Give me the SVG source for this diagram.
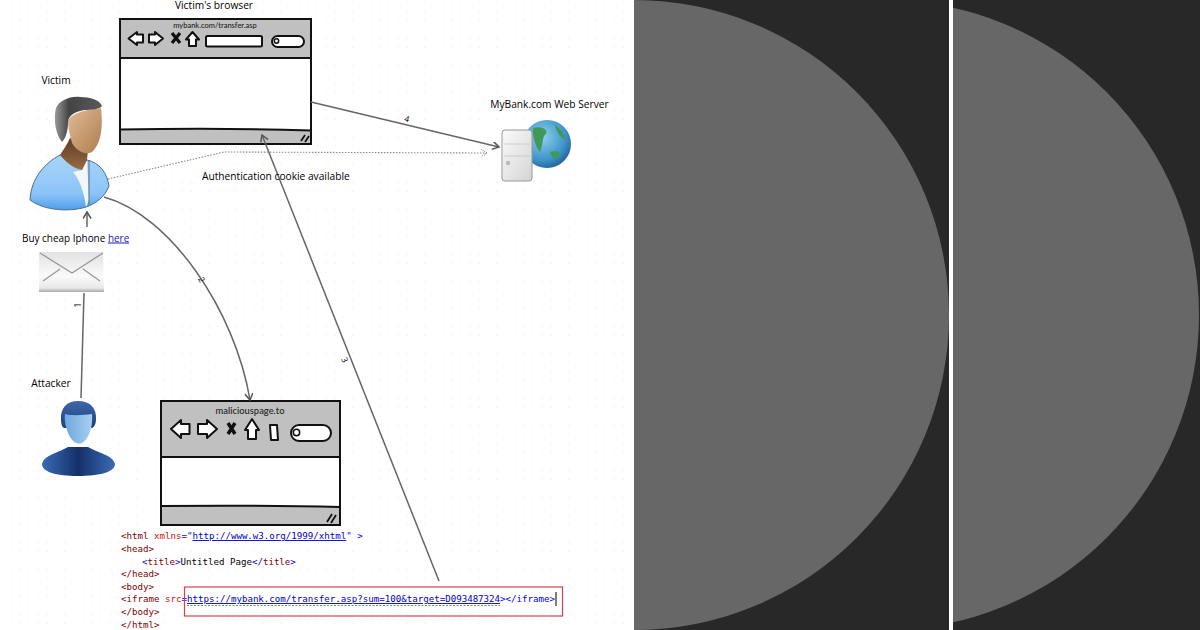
<svg xmlns="http://www.w3.org/2000/svg" width="1200" height="630" viewBox="0 0 1200 630">
<style>
.t{font-family:"Open Sans","Noto Sans","Liberation Sans",sans-serif;font-size:10.2px;fill:#000}
.n{font-family:"Open Sans","Liberation Sans",sans-serif;font-size:8.5px;fill:#000}
.s{font-family:Lato,"Open Sans",sans-serif;fill:#222;font-weight:500}
.c{font-family:"DejaVu Sans Mono","Liberation Mono",monospace;font-size:9.13px;fill:#000;white-space:pre}
.m{fill:#800000}.r{fill:#d01010}.b{fill:#0000ff}.u{fill:#0000d0;text-decoration:underline}
.conn{fill:none;stroke:#666;stroke-width:1.5}
.ic{fill:#fff;stroke:#111;stroke-width:2;stroke-linejoin:round}
.line{fill:none;stroke:#111;stroke-width:2}
</style>
<defs>
<pattern id="dots" width="9" height="9" patternUnits="userSpaceOnUse"><circle cx="2" cy="2" r=".6" fill="#e4e4e4"/></pattern>
<marker id="arr" markerWidth="10" markerHeight="10" refX="7.500" refY="4" orient="auto" markerUnits="userSpaceOnUse"><path d="M1,0 L7.500,4 L1,8" fill="none" stroke="#555" stroke-width="1.500"/></marker>
<marker id="dar" markerWidth="10" markerHeight="10" refX="7" refY="4" orient="auto" markerUnits="userSpaceOnUse"><path d="M1,0 L7,4 L1,8" fill="none" stroke="#888" stroke-width="1" stroke-dasharray="1 1"/></marker>
<linearGradient id="shirt" x1="0" y1="0" x2="0" y2="1"><stop offset="0" stop-color="#a9d4fb"/><stop offset=".7" stop-color="#8cc4f8"/><stop offset="1" stop-color="#4f9fe8"/></linearGradient>
<linearGradient id="skin" x1="0" y1="0" x2="1" y2="1"><stop offset="0" stop-color="#e0bc96"/><stop offset="1" stop-color="#b07c50"/></linearGradient>
<linearGradient id="neck" x1="0" y1="0" x2="0" y2="1"><stop offset="0" stop-color="#5e3c22"/><stop offset="1" stop-color="#9a6c44"/></linearGradient>
<linearGradient id="hair" x1="0" y1="0" x2="1" y2="0"><stop offset="0" stop-color="#9a9a9a"/><stop offset=".3" stop-color="#444"/><stop offset="1" stop-color="#5a5a5a"/></linearGradient>
<linearGradient id="atk" x1="0" y1="0" x2="0" y2="1"><stop offset="0" stop-color="#3f68a8"/><stop offset="1" stop-color="#1c3f80"/></linearGradient>
<linearGradient id="atkb" x1="0" y1="0" x2="1" y2="0"><stop offset="0" stop-color="#3a6cb4"/><stop offset=".5" stop-color="#14306a"/><stop offset="1" stop-color="#3a6cb4"/></linearGradient>
<linearGradient id="atkf" x1="0" y1="0" x2="1" y2="0"><stop offset="0" stop-color="#6ea6de"/><stop offset="1" stop-color="#a8d0f0"/></linearGradient>
<linearGradient id="env" x1="0" y1="0" x2="0" y2="1"><stop offset="0" stop-color="#e2e2e2"/><stop offset=".6" stop-color="#fafafa"/><stop offset=".9" stop-color="#e8e8e8"/><stop offset="1" stop-color="#a8a8a8"/></linearGradient>
<linearGradient id="srv" x1="0" y1="0" x2="1" y2="1"><stop offset="0" stop-color="#fbfbfb"/><stop offset="1" stop-color="#d4d4d4"/></linearGradient>
<radialGradient id="globe" cx=".4" cy=".35" r=".7"><stop offset="0" stop-color="#8fd0ee"/><stop offset=".7" stop-color="#3d93c9"/><stop offset="1" stop-color="#1f5f96"/></radialGradient>
<clipPath id="right2"><rect x="953" y="0" width="247" height="630"/></clipPath>
<clipPath id="right1"><rect x="634" y="0" width="315" height="630"/></clipPath>
</defs>
<rect width="1200" height="630" fill="#fff"/>
<rect width="634" height="630" fill="url(#dots)"/>
<g id="slide-art">
<rect x="634" y="0" width="315" height="630" fill="#282828"/>
<circle cx="634" cy="315" r="315" fill="#676767" clip-path="url(#right1)"/>
<rect x="953" y="0" width="247" height="630" fill="#282828"/>
<circle cx="884" cy="315" r="315" fill="#676767" clip-path="url(#right2)"/>
</g>
<g id="browser-victim">
<text class="t" x="214" y="9" text-anchor="middle">Victim's browser</text>
<path d="M120,19 H311 V144 H120 Z" fill="#fff"/>
<path d="M120,19 H311 V58 H120 Z" fill="#c0c0c0"/>
<path d="M120,129.500 C180,128.500 250,128.500 311,130.500 V144 H120 Z" fill="#c0c0c0"/>
<path class="line" d="M120,58 C180,57.500 250,58.500 311,58"/>
<path class="line" d="M120,129.500 C180,128.500 250,128.500 311,130.500"/>
<rect x="120" y="19" width="191" height="125" fill="none" stroke="#111" stroke-width="2"/>
<text class="s" x="215" y="28" text-anchor="middle" font-size="7.500">mybank.com/transfer.asp</text>
<path class="ic" d="M128.500,38.500 L137,32 V34.500 H143 V42.500 H137 V45 Z"/>
<path class="ic" d="M163,38.500 L155,32 V34.500 H149 V42.500 H155 V45 Z"/>
<path d="M172,33 L180,43 M180,33 L172,43" stroke="#111" stroke-width="3.200" fill="none"/>
<path class="ic" d="M186,39.500 L192.500,32 L199,39.500 H196 V46 H189 V39.500 Z"/>
<rect class="ic" x="206" y="36" width="56" height="10.500" rx="1.500"/>
<rect class="ic" x="272" y="36" width="32" height="11" rx="5.500"/>
<circle cx="276.500" cy="41" r="2.200" fill="none" stroke="#111" stroke-width="1.500"/>
<path d="M301,141 L305,135 M305,142 L309,136" stroke="#111" stroke-width="1.800" fill="none"/>
</g>
<g id="browser-malicious">
<path d="M161,401 H340 V525 H161 Z" fill="#fff"/>
<path d="M161,401 H340 V457 H161 Z" fill="#c0c0c0"/>
<path d="M161,506 C220,505.500 280,505.500 340,507 V525 H161 Z" fill="#c0c0c0"/>
<path class="line" d="M161,457 C220,457.500 280,456.500 340,457"/>
<path class="line" d="M161,506 C220,505.500 280,505.500 340,507"/>
<rect x="161" y="401" width="179" height="124" fill="none" stroke="#111" stroke-width="2"/>
<text class="s" x="250" y="414" text-anchor="middle" font-size="9.400">maliciouspage.to</text>
<path class="ic" d="M171,429 L181,420 V424 H189.500 V434 H181 V438 Z"/>
<path class="ic" d="M217,429 L207,420 V424 H198 V434 H207 V438 Z"/>
<path d="M228,423 L235,434 M235,423 L228,434" stroke="#111" stroke-width="3.500" fill="none"/>
<path class="ic" d="M245,430 L252,419 L259,430 H256 V439 H248 V430 Z"/>
<path class="ic" d="M270,425 H277 L278,440 H271 Z"/>
<rect class="ic" x="291" y="425" width="40" height="16" rx="8"/>
<circle cx="296.500" cy="432.500" r="3.200" fill="none" stroke="#111" stroke-width="1.500"/>
<path d="M327,522 L332,514 M331,523 L336,515" stroke="#111" stroke-width="1.800" fill="none"/>
</g>
<g id="victim">
<text class="t" x="56" y="84" text-anchor="middle">Victim</text>
<path d="M30,200 C31,178 45,163 60,155 L87,160 C100,163 107,173 109,186 C105,197 95,204 86,207 C70,212 45,211 30,200 Z" fill="url(#shirt)" stroke="#46708f" stroke-width="1"/>
<path d="M73,172 L82,170 L87,160 L89,200 L86,207 C84,192 80,180 73,172 Z" fill="#f2f6f8"/>
<path d="M89,160 V205" stroke="#55738a" stroke-width="1"/>
<path d="M60,155 C63,150 67,145 70,138 L88,150 L87,160 L82,170 C72,168 65,161 60,155 Z" fill="url(#neck)"/>
<path d="M68,122 C70,113 85,110 101,108 C103,125 102,143 92,152 C85,156 76,150 72,143 C70,135 68,128 68,122 Z" fill="url(#skin)"/>
<path d="M62,142 C56,135 53,120 56,108 C60,100 70,96 80,97 C90,97 100,100 102,106 C100,109 92,110 84,110 C76,112 69,114 68,122 C68,130 66,138 62,142 Z" fill="url(#hair)"/>
</g>
<g id="envelope">
<path d="M39,252 H103 L104,292 H39 Z" fill="url(#env)"/>
<path d="M40,253 L72,273 L103,253 M43,281 L60,269 M100,281 L83,269" fill="none" stroke="#999" stroke-width="1.300"/>
<text class="t" x="22" y="241.500" style="font-size:9.950px">Buy cheap Iphone <tspan fill="#1a1ab0" text-decoration="underline">here</tspan></text>
</g>
<g id="attacker">
<text class="t" x="51" y="387" text-anchor="middle">Attacker</text>
<path d="M42,464 C44,455 58,453 68,447 H88 C98,453 113,455 115,464 C115,472 100,476 78,476 C56,476 42,472 42,464 Z" fill="url(#atkb)"/>
<path d="M61,420 C60,408 67,401 78,401 C90,401 97,408 96,420 C96,424 94,427 92,428 H64 C62,427 61,424 61,420 Z" fill="url(#atk)"/>
<path d="M65,414 C72,416 84,415 92,414 C93,425 90,438 82,443 C78,445 74,443 70,437 C66,430 64,420 65,414 Z" fill="url(#atkf)"/>
</g>
<g id="web-server">
<text class="t" x="549.500" y="108" text-anchor="middle">MyBank.com Web Server</text>
<circle cx="547" cy="144" r="24" fill="url(#globe)"/>
<path d="M533,128 C540,126 548,128 546,134 C542,136 543,146 540,152 C536,148 532,136 533,128 Z M550,152 C556,150 562,151 559,157 C555,160 551,157 550,152 Z M555,125 C560,128 565,135 566,140 C561,138 556,132 555,125 Z" fill="#3f9a5a"/>
<rect x="502" y="130" width="30" height="51" rx="3" fill="url(#srv)" stroke="#999"/>
<path d="M504,144 H530 M504,156 H530" stroke="#ccc"/>
<circle cx="508" cy="163" r="2.200" fill="#bbb"/>
</g>
<g id="connectors">
<path class="conn" d="M81,398 L84,293"/>
<path class="conn" marker-end="url(#arr)" d="M87,227 V212"/>
<path class="conn" marker-end="url(#arr)" d="M104,197 C170,215 235,310 250,400"/>
<path class="conn" marker-end="url(#arr)" d="M439,581 L262,135"/>
<path class="conn" marker-end="url(#arr)" d="M311,102 L499,147"/>
<path d="M108,179 L224,152 L487,153" fill="none" stroke="#888" stroke-width="1.100" stroke-dasharray="1.500 1.500" marker-end="url(#dar)"/>
<text class="n" transform="translate(81,305) rotate(-90)" text-anchor="middle">1</text>
<text class="n" transform="translate(199,281) rotate(60)" text-anchor="middle">2</text>
<text class="n" transform="translate(342,361) rotate(68)" text-anchor="middle">3</text>
<text class="n" transform="translate(406,122) rotate(15)" text-anchor="middle">4</text>
<text class="t" x="202" y="180">Authentication cookie available</text>
</g>
<g id="code">
<text class="c" x="121" y="539"><tspan class="m">&lt;html</tspan> <tspan class="r">xmlns</tspan><tspan class="b">="</tspan><tspan class="u">http://www.w3.org/1999/xhtml</tspan><tspan class="b">" &gt;</tspan></text>
<text class="c" x="121" y="552"><tspan class="m">&lt;head&gt;</tspan></text>
<text class="c" x="142" y="564.500"><tspan class="b">&lt;</tspan><tspan class="m">title</tspan><tspan class="b">&gt;</tspan>Untitled Page<tspan class="b">&lt;/</tspan><tspan class="m">title</tspan><tspan class="b">&gt;</tspan></text>
<text class="c" x="121" y="577"><tspan class="m">&lt;/head&gt;</tspan></text>
<text class="c" x="121" y="590"><tspan class="m">&lt;body&gt;</tspan></text>
<path d="M187,605.500 H500" stroke="#6a9a55" stroke-width="1" stroke-dasharray="2 1.500" fill="none"/>
<text class="c" x="121" y="602"><tspan class="m">&lt;iframe</tspan> <tspan class="r">src</tspan><tspan class="b">=</tspan><tspan class="u">https://mybank.com/transfer.asp?sum=100&amp;target=D093487324</tspan><tspan class="b">&gt;&lt;/iframe&gt;</tspan></text>
<text class="c" x="121" y="615"><tspan class="m">&lt;/body&gt;</tspan></text>
<text class="c" x="121" y="627.500"><tspan class="m">&lt;/html&gt;</tspan></text>
<path d="M556,592 V606" stroke="#000"/>
<rect x="184.500" y="587" width="378" height="29" fill="none" stroke="#d9414a" stroke-width="1.200"/>
</g>
</svg>
